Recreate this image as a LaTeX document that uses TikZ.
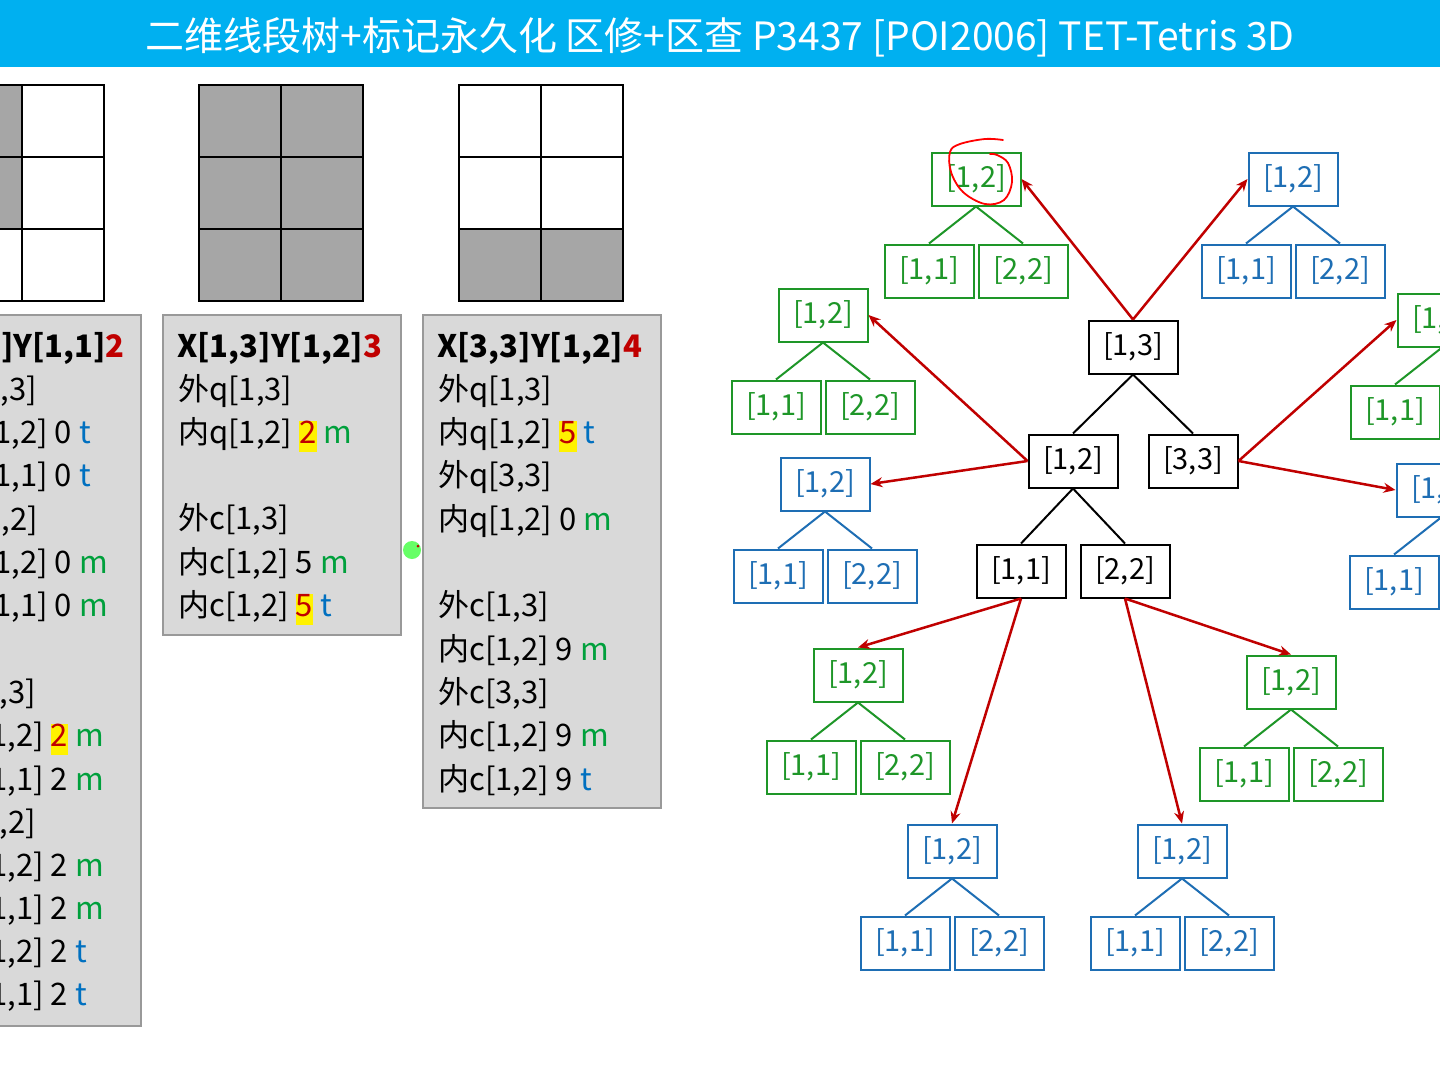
\documentclass[tikz,border=0pt]{standalone}
\usepackage{fontspec}
\setmainfont{Noto Sans CJK SC}
\usetikzlibrary{arrows.meta}
\definecolor{ttl}{RGB}{0,176,240}
\definecolor{rd}{RGB}{192,0,0}
\definecolor{gr}{RGB}{0,160,60}
\definecolor{tg}{RGB}{30,150,40}
\definecolor{bl}{RGB}{0,112,192}
\definecolor{tb}{RGB}{30,110,180}
\definecolor{panel}{RGB}{217,217,217}
\definecolor{cell}{RGB}{166,166,166}
\newcommand\hy[1]{{\setlength\fboxsep{0pt}\colorbox{yellow}{\strut\textcolor{rd}{#1}}}}
\newcommand\mm{\textcolor{gr}{m}}
\newcommand\tq{\textcolor{bl}{t}}
\tikzset{
 bk/.style={draw,line width=2pt,minimum width=89pt,minimum height=53pt,inner sep=0pt,font=\fontsize{29}{29}\selectfont},
 ln/.style={anchor=base west,inner sep=0pt,font=\fontsize{31}{31}\selectfont},
 lne/.style={anchor=base east,inner sep=0pt,font=\fontsize{31}{31}\selectfont},
 ar/.style={rd,line width=2.5pt,-{Stealth[length=12pt,width=10pt]}},
 pan/.style={fill=panel,draw=gray!80,line width=1.5pt},
}
\newcommand\smalltree[4]{%
 \node[bk,draw=#4,text=#4] (#1p) at (#2,#3) {[1,2]};
 \node[bk,draw=#4,text=#4] (#1l) at (#2-47,#3+92) {[1,1]};
 \node[bk,draw=#4,text=#4] (#1r) at (#2+47,#3+92) {[2,2]};
 \draw[#4,line width=2pt] (#1p.south) -- (#1l.north) (#1p.south) -- (#1r.north);}
\begin{document}
\begin{tikzpicture}[x=1pt,y=-1pt]
\clip (0,0) rectangle (1440,1080);
\fill[white] (0,0) rectangle (1440,1080);
\fill[ttl] (0,0) rectangle (1440,67);
\node[text=white,font=\fontsize{39}{39}\selectfont] (title) at (720,37) {二维线段树+标记永久化 区修+区查 P3437 [POI2006] TET-Tetris 3D};
% grids
\fill[cell] (-60,85) rectangle (22,229);
\fill[cell] (199,85) rectangle (363,301);
\fill[cell] (459,229) rectangle (624,301);
\foreach \a in {-60,199,459}{
 \draw[line width=2pt] (\a,85) rectangle ++(164,216);
 \draw[line width=2pt] (\a+82,85) -- ++(0,216) (\a,157) -- ++(164,0) (\a,229) -- ++(164,0);}
% panels
\draw[pan] (-20,315) rectangle (141,1026);
\draw[pan] (163,315) rectangle (401,635);
\draw[pan] (423,315) rectangle (661,808);
% panel 1 (right-anchored)
\node[lne] (a1) at (125,357) {\textbf{X[1,2]Y[1,1]\textcolor{rd}{2}}};
\node[lne] (a2) at (37,400) {外q[1,3]};
\node[lne] (a3) at (91,443) {内q[1,2] 0 \tq};
\node[lne] (a4) at (91,486) {内q[1,1] 0 \tq};
\node[lne] (a5) at (38,530) {外q[1,2]};
\node[lne] (a6) at (108,573) {内q[1,2] 0 \mm};
\node[lne] (a7) at (108,616) {内q[1,1] 0 \mm};
\node[lne] (a9) at (36,703) {外c[1,3]};
\node[lne] (a10) at (104,746) {内c[1,2] \hy{2} \mm};
\node[lne] (a11) at (104,790) {内c[1,1] 2 \mm};
\node[lne] (a12) at (36,833) {外c[1,2]};
\node[lne] (a13) at (104,876) {内c[1,2] 2 \mm};
\node[lne] (a14) at (104,919) {内c[1,1] 2 \mm};
\node[lne] (a15) at (87,962) {内c[1,2] 2 \tq};
\node[lne] (a16) at (87,1005) {内c[1,1] 2 \tq};
% panel 2
\node[ln] (b1) at (177,357) {\textbf{X[1,3]Y[1,2]\textcolor{rd}{3}}};
\node[ln] (b2) at (178,400) {外q[1,3]};
\node[ln] (b3) at (178,443) {内q[1,2] \hy{2} \mm};
\node[ln] (b5) at (178,529) {外c[1,3]};
\node[ln] (b6) at (178,573) {内c[1,2] 5 \mm};
\node[ln] (b7) at (178,616) {内c[1,2] \hy{5} \tq};
% panel 3
\node[ln] (c1) at (437,357) {\textbf{X[3,3]Y[1,2]\textcolor{rd}{4}}};
\node[ln] (c2) at (438,400) {外q[1,3]};
\node[ln] (c3) at (438,443) {内q[1,2] \hy{5} \tq};
\node[ln] (c4) at (438,486) {外q[3,3]};
\node[ln] (c5) at (438,530) {内q[1,2] 0 \mm};
\node[ln] (c7) at (438,616) {外c[1,3]};
\node[ln] (c8) at (438,660) {内c[1,2] 9 \mm};
\node[ln] (c9) at (438,703) {外c[3,3]};
\node[ln] (c10) at (438,746) {内c[1,2] 9 \mm};
\node[ln] (c11) at (438,790) {内c[1,2] 9 \tq};
% dot
\fill[green!60!white] (412,550) circle (9);
\fill[rd] (418,546) circle (1.5);
% main tree
\node[bk] (r) at (1133,347) {[1,3]};
\node[bk] (m12) at (1073,461) {[1,2]};
\node[bk] (m33) at (1193,461) {[3,3]};
\node[bk] (m11) at (1021,571) {[1,1]};
\node[bk] (m22) at (1125,571) {[2,2]};
\draw[line width=2pt] (r.south)--(m12.north) (r.south)--(m33.north) (m12.south)--(m11.north) (m12.south)--(m22.north);
% small trees
\smalltree{t1}{976}{179}{tg}
\smalltree{t2}{1293}{179}{tb}
\smalltree{t3}{823}{315}{tg}
\smalltree{t4}{825}{484}{tb}
\smalltree{t5}{1442}{320}{tg}
\smalltree{t6}{1441}{490}{tb}
\smalltree{t7}{858}{675}{tg}
\smalltree{t8}{1291}{682}{tg}
\smalltree{t9}{952}{851}{tb}
\smalltree{t10}{1182}{851}{tb}
% arrows
\draw[ar] (r.north) -- (t1p.east);
\draw[ar] (r.north) -- (t2p.west);
\draw[ar] (m12.west) -- (t3p.east);
\draw[ar] (m12.west) -- (t4p.east);
\draw[ar] (m33.east) -- (t5p.west);
\draw[ar] (m33.east) -- (t6p.west);
\draw[ar] (m11.south) -- (t7p.north);
\draw[ar] (m11.south) -- (t9p.north);
\draw[ar] (m22.south) -- (t8p.north);
\draw[ar] (m22.south) -- (t10p.north);
% scribble
\draw[red,line width=1.8pt,line cap=round] plot[smooth,tension=0.6] coordinates {(1003,140) (985,139) (960,144) (950,152) (951,172) (963,192) (985,204) (1004,200) (1012,182) (1008,163) (997,155) (990,154)};
\end{tikzpicture}
\end{document}
